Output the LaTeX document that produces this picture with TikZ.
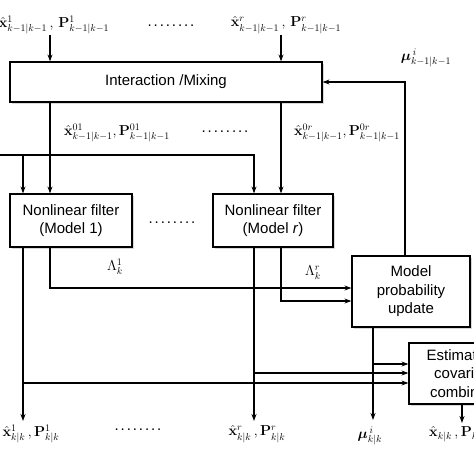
\documentclass[tikz,border=0pt]{standalone}
\usepackage{amsmath,bm}
\usepackage[no-math]{fontspec}
\setmainfont{Liberation Sans}
\usetikzlibrary{arrows.meta,shadows}
\newcommand{\rowdots}{.\kern1.9pt.\kern1.9pt.\kern1.9pt.\kern1.9pt.\kern1.9pt.\kern1.9pt.\kern1.9pt.}
\begin{document}
\begin{tikzpicture}[x=1pt,y=-1pt,
  box/.style={draw,line width=1.2pt,fill=white,inner sep=0pt,align=center,
    font=\fontsize{15}{18.5}\selectfont,
    drop shadow={shadow xshift=1.8pt,shadow yshift=-1.8pt,opacity=0.3}},
  lab/.style={inner sep=0pt,font=\fontsize{14.5}{17}\selectfont},
  dotlab/.style={inner sep=0pt,font=\fontsize{15}{17}\selectfont},
  ln/.style={line width=1.1pt},
  arr/.style={ln,-{Stealth[length=7pt,width=5pt]}}]
\path[use as bounding box] (0,0) rectangle (474,474);
\clip (0,0) rectangle (474,474);
\fill[white] (0,0) rectangle (474,474);

% boxes
\node[box,minimum width=312pt,minimum height=40pt] (mix) at (166,82) {Interaction /Mixing};
\node[box,minimum width=122pt,minimum height=53pt] (f1) at (71,220.5) {Nonlinear filter\\(Model 1)};
\node[box,minimum width=120pt,minimum height=53pt] (fr) at (273,220.5) {Nonlinear filter\\(Model \textit{r})};
\node[box,minimum width=118pt,minimum height=71pt] (mp) at (411,291.5) {Model\\probability\\update};
\node[box,minimum width=123pt,minimum height=61pt] (est) at (470.5,373.5) {Estimate and\\covariance\\combination};

% labels
\node[lab] (t1) at (54,25) {$\hat{\mathbf{x}}^1_{k-1|k-1}\,,\,\mathbf{P}^1_{k-1|k-1}$};
\node[dotlab] (tdots) at (171,26) {\rowdots};
\node[lab] (tr) at (286,25) {$\hat{\mathbf{x}}^r_{k-1|k-1}\,,\,\mathbf{P}^r_{k-1|k-1}$};
\node[lab] (mu0) at (426,58) {$\bm{\mu}^{\,i}_{k-1|k-1}$};
\node[lab] (m1) at (117,133) {$\hat{\mathbf{x}}^{01}_{k-1|k-1},\mathbf{P}^{01}_{k-1|k-1}$};
\node[dotlab] (mdots) at (225,132) {\rowdots};
\node[lab] (mr) at (347,133) {$\hat{\mathbf{x}}^{0r}_{k-1|k-1},\mathbf{P}^{0r}_{k-1|k-1}$};
\node[dotlab] (fdots) at (172,223) {\rowdots};
\node[lab] (L1) at (115,267) {$\Lambda^1_k$};
\node[lab] (Lr) at (313,273) {$\Lambda^r_k$};
\node[lab] (b1) at (31,434) {$\hat{\mathbf{x}}^1_{k|k}\,,\mathbf{P}^1_{k|k}$};
\node[dotlab] (bdots) at (138,430) {\rowdots};
\node[lab] (br) at (257,434) {$\hat{\mathbf{x}}^r_{k|k}\,,\mathbf{P}^r_{k|k}$};
\node[lab] (bmu) at (370,436) {$\bm{\mu}^{\,i}_{k|k}$};
\node[lab,anchor=west] (be) at (429,434) {$\hat{\mathbf{x}}_{k|k}\,,\mathbf{P}_{k|k}$};

% coordinates
\coordinate (xa) at (23,0);
\coordinate (a1) at (50,0);
\coordinate (xc) at (254,0);
\coordinate (ar) at (281,0);
\coordinate (xd) at (373,0);
\coordinate (xf) at (405,0);
\coordinate (xe) at (462,0);
\coordinate (lin) at (0,155);
\coordinate (y1) at (0,288);
\coordinate (y2) at (0,301);
\coordinate (y3) at (0,364);
\coordinate (y4) at (0,373);
\coordinate (y5) at (0,383);

% connectors
\draw[arr] (a1 |- 0,35) -- (mix.north -| a1);
\draw[arr] (ar |- 0,35) -- (mix.north -| ar);
\draw[arr] (mix.south -| a1) -- (f1.north -| a1);
\draw[arr] (mix.south -| ar) -- (fr.north -| ar);
\draw[arr] (lin) -- (lin -| xc) -- (fr.north -| xc);
\draw[arr] (lin -| xa) -- (f1.north -| xa);
\draw[arr] (f1.south -| xa) -- (xa |- 0,421);
\draw[arr] (f1.south -| a1) |- (mp.west |- y1);
\draw[arr] (fr.south -| ar) |- (mp.west |- y2);
\draw[arr] (fr.south -| xc) -- (xc |- 0,421);
\draw[arr] (mp.south -| xd) -- (xd |- 0,420);
\draw[arr] (xd |- y3) -- (est.west |- y3);
\draw[arr] (xc |- y4) -- (est.west |- y4);
\draw[arr] (xa |- y5) -- (est.west |- y5);
\draw[arr] (est.south -| xe) -- (xe |- 0,423);
\draw[arr] (mp.north -| xf) |- (mix.east);
\end{tikzpicture}
\end{document}
